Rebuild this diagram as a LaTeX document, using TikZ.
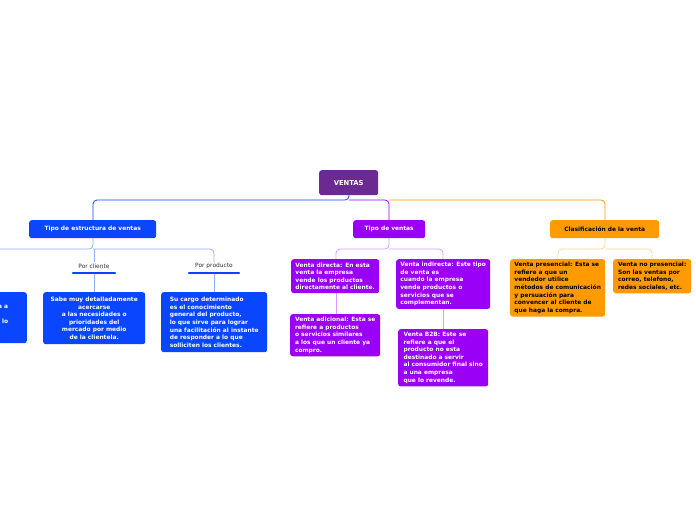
\documentclass[tikz,border=0pt]{standalone}
\usepackage{fontspec}
\setmainfont{DejaVu Sans}
\begin{document}
\begin{tikzpicture}[x=1pt,y=-1pt,
 every node/.style={font=\fontsize{5.9}{7.6}\selectfont\bfseries},
 box/.style={anchor=north west,rounded corners=2.5pt,inner sep=3pt,text=white,align=left},
 ob/.style={box,fill=ora,text=black},
 conn/.style={line width=0.8pt,rounded corners=4pt},
 lab/.style={font=\fontsize{5.9}{7}\selectfont,text=black!80}]
\definecolor{blu}{HTML}{0A46FF}
\definecolor{lblu}{HTML}{8FB0FF}
\definecolor{pur}{HTML}{9A00F5}
\definecolor{lpur}{HTML}{D59BFF}
\definecolor{dpur}{HTML}{6B2A92}
\definecolor{ora}{HTML}{FF9A00}
\definecolor{lora}{HTML}{FFD79A}
\useasboundingbox (0,0) rectangle (696,520);
\clip (0,0) rectangle (696,520);
% connectors
\draw[conn,blu] (349,195) -- (349,200) -- (93,200) -- (93,220);
\draw[conn,pur] (349,200) -- (389,200) -- (389,220);
\draw[conn,ora] (389,200) -- (605,200) -- (605,220);
\draw[conn,lblu] (93,238) -- (93,249) -- (-20,249);
\draw[conn,lblu] (93,249) -- (214,249) -- (214,262);
\draw[conn,lblu] (94,249) -- (94,262);
\draw[conn,lblu] (94,273) -- (94,292);
\draw[conn,lblu] (214,273) -- (214,292);
\draw[conn,lpur] (389,238) -- (389,249) -- (336,249) -- (336,259);
\draw[conn,lpur] (389,249) -- (443,249) -- (443,259);
\draw[conn,lpur] (336,293) -- (336,314);
\draw[conn,lpur] (443,308) -- (443,329);
\draw[conn,lora] (605,238) -- (605,249) -- (558,249) -- (558,259);
\draw[conn,lora] (605,249) -- (652,249) -- (652,259);
% nodes
\node[box,fill=dpur,minimum width=59pt,minimum height=25pt,font=\fontsize{6.8}{8}\selectfont\bfseries] (v) at (319,170) {\hbox to 53pt{\hfil VENTAS\hfil}};
\node[box,fill=blu,minimum width=127pt,minimum height=18pt] (te) at (29,220) {\hbox to 121pt{\hfil Tipo de estructura de ventas\hfil}};
\node[box,fill=pur,minimum width=72pt,minimum height=18pt] (tv) at (353,220) {\hbox to 66pt{\hfil Tipo de ventas\hfil}};
\node[ob,minimum width=109pt,minimum height=18pt] (cv) at (550,220) {\hbox to 103pt{\hfil Clasificación de la venta\hfil}};
\node[lab] (pc) at (94,266) {Por cliente};
\node[lab] (pp) at (214,266) {Por producto};
\draw[blu,line width=2.2pt,line cap=round] (73,273) -- (115,273);
\draw[blu,line width=2.2pt,line cap=round] (189,273) -- (239,273);
\node[box,fill=blu,minimum width=90pt,minimum height=51pt,align=right,anchor=north east] (pl) at (27,292) {Se relaciona a\\ \\ y la actividad lo\\ };
\node[box,fill=blu,minimum width=102pt,minimum height=52pt,align=center,inner sep=2pt] (c1) at (43,292) {Sabe muy detalladamente\\acercarse\\a las necesidades o\\prioridades del\\mercado por medio\\de la clientela.};
\node[box,fill=blu,minimum width=106pt,minimum height=60pt] (c2) at (161,292) {Su cargo determinado\\es el conocimiento\\general del producto,\\lo que sirve para lograr\\una facilitación al instante\\de responder a lo que\\ solliciten los clientes.};
\node[box,fill=pur,minimum width=88pt,minimum height=34pt] (d) at (291,259) {Venta directa: En esta\\venta la empresa\\vende los productos\\directamente al cliente.};
\node[box,fill=pur,minimum width=94pt,minimum height=49pt] (i) at (396,259) {Venta indirecta: Este tipo\\de venta es\\cuando la empresa\\ vende productos o\\servicios que se\\ complementan.};
\node[box,fill=pur,minimum width=90pt,minimum height=41pt] (a) at (290,314) {Venta adicional: Esta se\\refiere a productos\\o servicios similares\\ a los que un cliente ya\\compro.};
\node[box,fill=pur,minimum width=90pt,minimum height=56pt] (b) at (398,329) {Venta B2B: Este se\\refiere a que el\\producto no esta\\destinado a servir\\al consumidor final sino\\a una empresa\\que lo revende.};
\node[ob,minimum width=95pt,minimum height=56pt] (p) at (510,259) {Venta presencial: Esta se\\refiere a que un\\vendedor utilice\\métodos de comunicación\\y persuación para\\ convencer al cliente de\\que haga la compra.};
\node[ob,minimum width=78pt,minimum height=34pt] (np) at (613,259) {Venta no presencial:\\Son las ventas por\\correo, telefono,\\redes sociales, etc.};
\end{tikzpicture}
\end{document}
